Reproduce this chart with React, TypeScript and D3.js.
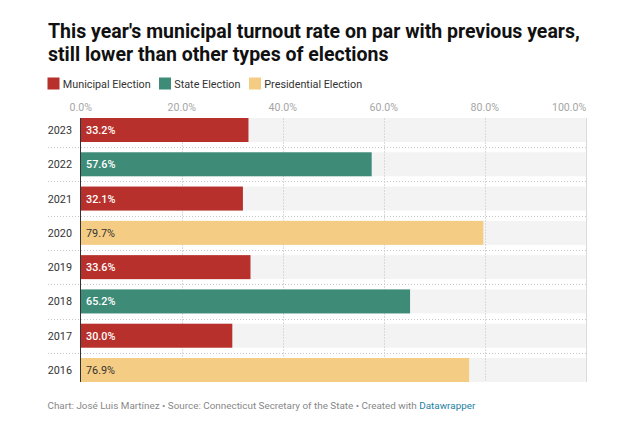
import React from "react";
import * as d3 from "d3";

const years = ["2023", "2022", "2021", "2020", "2019", "2018", "2017", "2016"];
const turnout = [33.2, 57.6, 32.1, 79.7, 33.6, 65.2, 30.0, 76.9];
const electionType = ["Municipal", "State", "Municipal", "Presidential", "Municipal", "State", "Municipal", "Presidential"];
const legendLabels = ["Municipal Election", "State Election", "Presidential Election"];
const typeKeys = ["Municipal", "State", "Presidential"];
const typeColors = ["#b7302b", "#3e8c78", "#f5cc83"];
const xTicks = [0, 20, 40, 60, 80, 100];

const W = 630;
const H = 423;
const FONT = "Roboto, 'Noto Sans', sans-serif";

export default function App() {
  const x = d3.scaleLinear().domain([0, 100]).range([80.8, 585.8]);
  const y = d3.scaleBand<string>().domain(years).range([118, 382]).paddingInner(0.3).paddingOuter(0);
  const color = d3.scaleOrdinal<string, string>().domain(typeKeys).range(typeColors);
  const bw = y.bandwidth();
  const step = y.step();
  const legendX = [47.5, 159, 249];

  return (
    <svg width={W} height={H} style={{ position: "absolute", left: 0, top: 0, background: "#fff" }} fontFamily={FONT}>
      <text x={48} y={37.7} fontSize={19.5} fontWeight={700} fill="#111">
        This year's municipal turnout rate on par with previous years,
      </text>
      <text x={48} y={61.3} fontSize={19.5} fontWeight={700} fill="#111">
        still lower than other types of elections
      </text>
      {legendLabels.map((l, i) => (
        <g key={l}>
          <rect x={legendX[i]} y={77.5} width={12} height={12} fill={typeColors[i]} />
          <text x={legendX[i] + 15.3} y={87.5} fontSize={10.8} fill="#333">{l}</text>
        </g>
      ))}
      {xTicks.map((t) => (
        <text key={t} x={t === 100 ? x(t) + 0.5 : x(t)} y={110.5} fontSize={10.6} fill="#a6a6a6" textAnchor={t === 100 ? "end" : "middle"}>
          {d3.format(".1f")(t) + "%"}
        </text>
      ))}
      {years.map((yr) => (
        <rect key={"bg" + yr} x={x(0)} y={y(yr)} width={x(100) - x(0)} height={bw} fill="#f3f3f3" />
      ))}
      {xTicks.filter((t) => t > 0).map((t) => (
        <line key={"g" + t} x1={Math.round(x(t)) + 0.5} x2={Math.round(x(t)) + 0.5} y1={118} y2={382} stroke="#dadada" strokeWidth={1} strokeDasharray={t === 100 ? undefined : "2,1"} />
      ))}
      {years.slice(0, -1).map((yr) => {
        const sy = Math.round((y(yr) as number) + bw + (step - bw) / 2) + 0.5;
        return <line key={"s" + yr} x1={48} x2={586} y1={sy} y2={sy} stroke="#c8c8c8" strokeWidth={1} strokeDasharray="1,2" />;
      })}
      {years.map((yr, i) => (
        <rect key={"b" + yr} x={x(0)} y={y(yr)} width={x(turnout[i]) - x(0)} height={bw} fill={color(electionType[i])} />
      ))}
      <line x1={80.5} x2={80.5} y1={118} y2={382} stroke="#333" strokeWidth={1} />
      {years.map((yr, i) => (
        <text key={"yl" + yr} x={72} y={(y(yr) as number) + bw / 2 + 4} fontSize={10.8} fill="#333" textAnchor="end">{yr}</text>
      ))}
      {years.map((yr, i) => (
        <text key={"vl" + yr} x={86} y={(y(yr) as number) + bw / 2 + 4} fontSize={10.8}
          fontWeight={electionType[i] === "Presidential" ? 400 : 500}
          fill={electionType[i] === "Presidential" ? "#333" : "#fff"}>
          {d3.format(".1f")(turnout[i]) + "%"}
        </text>
      ))}
      <text x={47.5} y={408.5} fontSize={9.9} fill="#888">
        Chart: José Luis Martínez • Source: Connecticut Secretary of the State • Created with{" "}
        <tspan fill="#1d81a2">Datawrapper</tspan>
      </text>
    </svg>
  );
}
